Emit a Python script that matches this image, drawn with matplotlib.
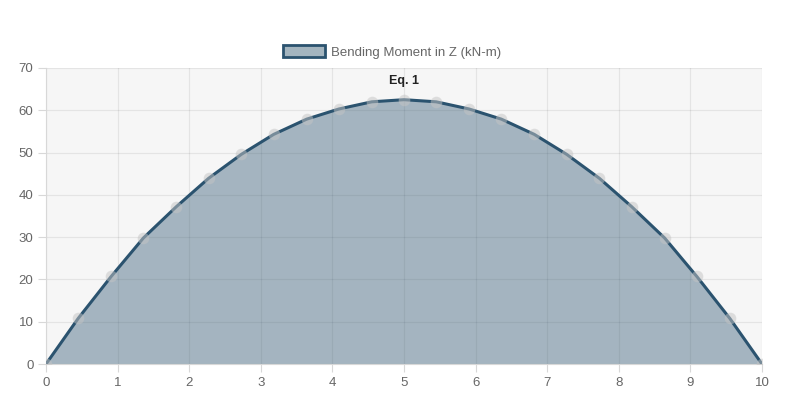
import matplotlib.pyplot as plt
from matplotlib.patches import Patch

plt.rcParams['font.family'] = ['Liberation Sans', 'DejaVu Sans']

# positions along the beam (m) and bending moment (kN-m)
x_pos = [0, 0.45, 0.91, 1.36, 1.82, 2.27, 2.73, 3.18, 3.64, 4.09, 4.55, 5.0,
         5.45, 5.91, 6.36, 6.82, 7.27, 7.73, 8.18, 8.64, 9.09, 9.55, 10]
moment = [0, 10.8, 20.7, 29.8, 37.2, 43.9, 49.6, 54.3, 57.9, 60.3, 62.0, 62.5,
          62.0, 60.3, 57.9, 54.3, 49.6, 43.9, 37.2, 29.8, 20.7, 10.8, 0]
label = 'Bending Moment in Z (kN-m)'
note = 'Eq. 1'
note_x, note_y = 5, 65.6

line_col = '#2b536f'
fill_col = '#a4b5bf'

fig = plt.figure(figsize=(8, 4.17), dpi=100)
ax = fig.add_axes([0.0575, 0.127, 0.895, 0.71])
ax.set_facecolor('#f6f6f6')

ax.set_axisbelow(True)
ax.grid(True, color='black', alpha=0.07, lw=0.9)
ax.fill_between(x_pos, moment, 0, color=line_col, alpha=0.4, zorder=2, linewidth=0)
ax.plot(x_pos, moment, color=line_col, lw=2.2, zorder=3)
ax.scatter(x_pos, moment, s=70, color='#c4c4c4', alpha=0.5, zorder=4, linewidths=0)

ax.set_xlim(0, 10)
ax.set_ylim(0, 70)
ax.set_xticks(range(0, 11))
ax.set_yticks(range(0, 71, 10))
for s in ['top', 'right']:
    ax.spines[s].set_visible(False)
for s in ['left', 'bottom']:
    ax.spines[s].set_color('#d8d8d8')
ax.tick_params(colors='#d8d8d8', labelcolor='#666666', labelsize=9.5, length=6, pad=3)

ax.text(note_x, note_y, note, ha='center', va='bottom', fontsize=9, fontweight='bold', color='#222222')

handle = Patch(facecolor=fill_col, edgecolor=line_col, linewidth=2)
fig.legend(handles=[handle], labels=[label], loc='center', bbox_to_anchor=(0.49, 0.875),
           frameon=False, fontsize=9.5, handlelength=3.2, handleheight=1.0,
           labelcolor='#666666', handletextpad=0.5)

fig.savefig('out.png', dpi=100, facecolor='white')
